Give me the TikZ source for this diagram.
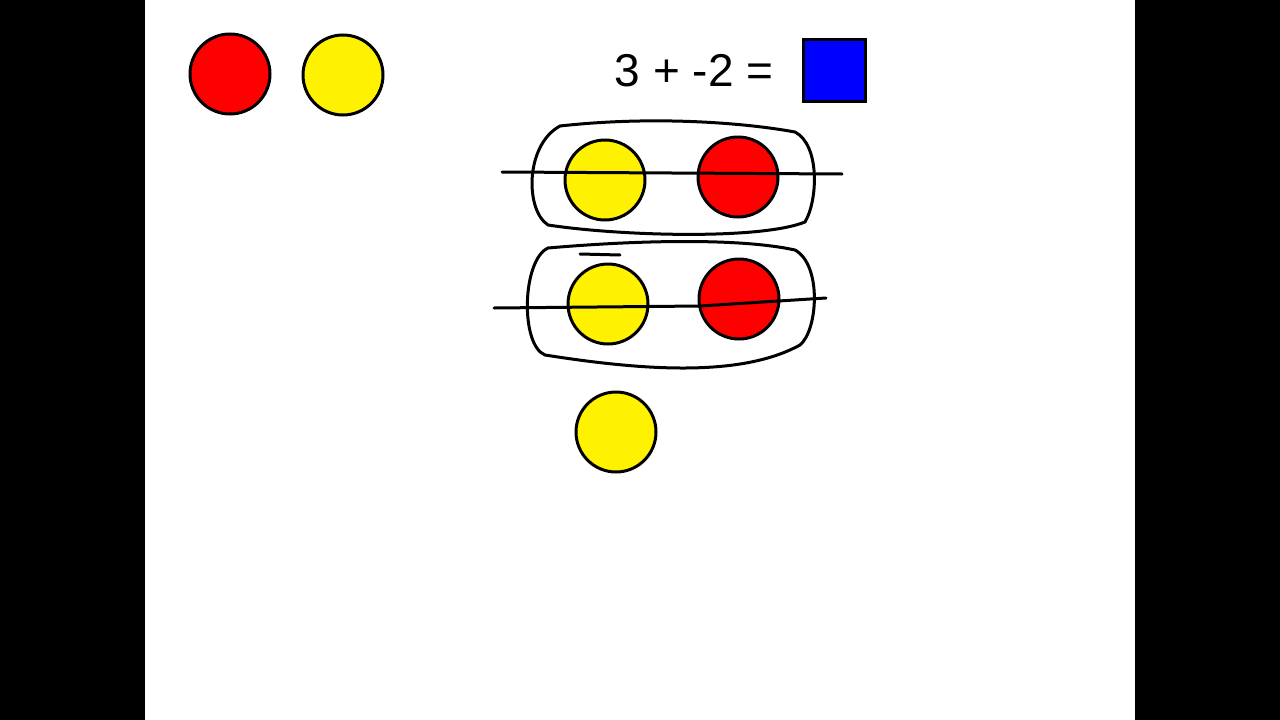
\documentclass[tikz,border=0pt]{standalone}
\usepackage{fontspec}
\setmainfont{Liberation Sans}
\begin{document}
\begin{tikzpicture}[x=1pt,y=-1pt,
  chip/.style={circle,draw=black,line width=3pt,minimum size=80pt,inner sep=0pt},
  ink/.style={draw=black,line width=3pt,line cap=round,line join=round}]
\useasboundingbox (0,0) rectangle (1280,720);
\fill[black] (0,0) rectangle (145,720);
\fill[black] (1135,0) rectangle (1280,720);
\node[chip,fill=red] (r0) at (230,74) {};
\node[chip,fill=yellow] (y0) at (343,75) {};
\node[font=\fontsize{46}{50}\selectfont] (eq) at (694,71) {3 + -2 =};
\node[draw=black,line width=3pt,fill=blue,minimum width=62pt,minimum height=62pt,inner sep=0pt] (sq) at (834,70) {};
\node[chip,fill=yellow] (y1) at (605,180) {};
\node[chip,fill=red] (r1) at (738,177) {};
\node[chip,fill=yellow] (y2) at (608,304) {};
\node[chip,fill=red] (r2) at (739,299) {};
\node[chip,fill=yellow] (y3) at (616,432) {};
\draw[ink] (502,172) -- (842,174);
\draw[ink] (494,308) -- (700,306) -- (826,298);
\draw[ink] (560,126) .. controls (650,116) and (740,122) .. (795,132)
  .. controls (820,145) and (818,200) .. (805,222)
  .. controls (760,240) and (620,236) .. (548,225)
  .. controls (525,210) and (525,145) .. (560,126);
\draw[ink] (548,248) .. controls (640,240) and (740,238) .. (795,250)
  .. controls (822,265) and (818,330) .. (800,345)
  .. controls (740,378) and (640,370) .. (545,355)
  .. controls (520,345) and (522,260) .. (548,248);
\draw[ink] (580,254) -- (620,255);
\end{tikzpicture}
\end{document}
